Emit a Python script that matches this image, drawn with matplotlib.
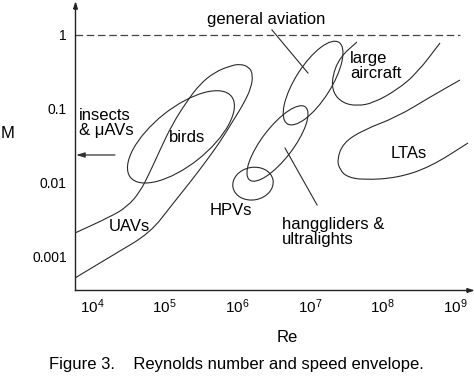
import numpy as np
import matplotlib
matplotlib.use("Agg")
import matplotlib.pyplot as plt
from matplotlib.patches import Ellipse, PathPatch
from matplotlib.path import Path

plt.rcParams['font.family'] = ['Liberation Sans', 'DejaVu Sans']
plt.rcParams['mathtext.fontset'] = 'custom'
plt.rcParams['mathtext.rm'] = 'Liberation Sans'

# UAV envelope (open curve, Re vs M)
uav_re = [5.83e3, 1.77e4, 3.03e4, 4.58e4, 6.30e4, 8.65e4, 1.26e5, 2.04e5, 3.08e5, 4.94e5,
          7.96e5, 1.09e6, 1.46e6, 1.65e6, 1.55e6, 1.24e6, 8.75e5, 5.79e5, 3.84e5, 2.38e5,
          1.26e5, 6.30e4, 2.07e4, 5.83e3]
uav_m = [2.11e-3, 3.48e-3, 4.74e-3, 7.55e-3, 0.0141, 0.0279, 0.0608, 0.128, 0.218, 0.316,
         0.381, 0.406, 0.370, 0.288, 0.192, 0.120, 0.0689, 0.0358, 0.0205, 0.0110,
         5.05e-3, 2.11e-3, 1.10e-3, 5.20e-4]

# large aircraft envelope
large_re = [4.47e7, 2.61e7, 2.02e7, 2.09e7, 2.87e7, 4.47e7, 7.43e7, 1.59e8, 3.00e8, 6.21e8]
large_m = [0.804, 0.504, 0.271, 0.164, 0.120, 0.110, 0.120, 0.181, 0.306, 0.779]

# LTA envelope
lta_re = [1.17e9, 4.53e8, 1.59e8, 5.41e7, 2.87e7, 2.37e7, 2.61e7, 3.25e7, 5.41e7, 1.59e8,
          4.53e8, 1.51e9]
lta_m = [0.246, 0.145, 0.078, 0.052, 0.0347, 0.0205, 0.0150, 0.0121, 0.0110, 0.0117,
         0.0164, 0.0347]

# closed regions: centre Re, centre M, length / width (decades), tilt (deg)
ell_names = ['birds', 'general aviation', 'hanggliders', 'HPVs']
ell_re = [1.68e5, 1.11e7, 3.59e6, 1.65e6]
ell_m = [0.042, 0.224, 0.0342, 0.0098]
ell_len = [1.77, 1.31, 1.25, 0.56]
ell_wid = [0.77, 0.49, 0.43, 0.44]
ell_ang = [38, 57, 52, 10]

xticks = [1e4, 1e5, 1e6, 1e7, 1e8, 1e9]
xticklabels = [r'$\mathregular{10^{%d}}$' % k for k in range(4, 10)]
yticks = [1e-3, 1e-2, 1e-1, 1]
yticklabels = ['0.001', '0.01', '0.1', '1']

line_c = '#2a2a2a'


def smooth_curve(ax, xs, ys):
    # quadratic bezier through the midpoints (midpoints taken in log space)
    pts = list(zip(xs, ys))
    mid = lambda a, b: (np.sqrt(a[0] * b[0]), np.sqrt(a[1] * b[1]))
    verts = [pts[0], mid(pts[0], pts[1])]
    codes = [Path.MOVETO, Path.LINETO]
    for i in range(1, len(pts) - 1):
        verts += [pts[i], mid(pts[i], pts[i + 1])]
        codes += [Path.CURVE3, Path.CURVE3]
    verts.append(pts[-1])
    codes.append(Path.LINETO)
    ax.add_patch(PathPatch(Path(verts, codes), fill=False, ec=line_c, lw=0.8))


fig = plt.figure(figsize=(4.74, 3.90), dpi=100)
ax = fig.add_axes([0.1582, 0.2564, 0.8376, 0.7359])
ax.set_xscale('log')
ax.set_yscale('log')
ax.set_xlim(10**3.766, 10**9.234)
ax.set_ylim(10**-3.446, 10**0.432)

smooth_curve(ax, uav_re, uav_m)
smooth_curve(ax, large_re, large_m)
smooth_curve(ax, lta_re, lta_m)

# ellipses drawn in log space
trans_log = ax.transLimits + ax.transAxes
for re, m, L, W, a in zip(ell_re, ell_m, ell_len, ell_wid, ell_ang):
    ax.add_patch(Ellipse((np.log10(re), np.log10(m)), L, W, angle=a,
                         transform=trans_log, fill=False, ec=line_c, lw=0.8))

# Mach 1 line
ax.plot([10**3.766, 1.17e9], [1, 1], color='#444444', lw=0.9, ls=(0, (6, 3)))

# leader lines
ax.plot([3.01e6, 9.44e6], [1.17, 0.306], color=line_c, lw=0.8)
ax.plot([4.55e6, 1.26e7], [0.0297, 5.04e-3], color=line_c, lw=0.8)

# insects arrow
ax.annotate('', xy=(6.03e3, 0.0239), xytext=(2.07e4, 0.0239),
            arrowprops=dict(arrowstyle='-|>,head_width=0.15,head_length=0.5',
                            color='#333333', lw=0.9, shrinkA=0, shrinkB=0))

fs = 12
ax.text(2.49e6, 1.60, 'general aviation', fontsize=fs, ha='center', va='center')
ax.text(3.58e7, 0.381, 'large\naircraft', fontsize=fs, ha='left', va='center', linespacing=1.0)
ax.text(2.04e5, 0.0406, 'birds', fontsize=fs, ha='center', va='center')
ax.text(6.62e3, 0.0647, 'insects\n& \u03bcAVs', fontsize=fs, ha='left', va='center', linespacing=1.0)
ax.text(3.24e4, 2.62e-3, 'UAVs', fontsize=fs, ha='center', va='center')
ax.text(8.22e5, 4.19e-3, 'HPVs', fontsize=fs, ha='center', va='center')
ax.text(4.14e6, 2.18e-3, 'hanggliders &\nultralights', fontsize=fs, ha='left', va='center', linespacing=1.0)
ax.text(2.32e8, 0.0247, 'LTAs', fontsize=fs, ha='center', va='center')

ax.set_xticks(xticks)
ax.set_xticklabels(xticklabels, fontsize=11)
ax.set_yticks(yticks)
ax.set_yticklabels(yticklabels, fontsize=10)
ax.minorticks_off()
ax.tick_params(axis='x', length=0, pad=5)
ax.tick_params(axis='y', length=0, pad=6)

for s in ['top', 'right']:
    ax.spines[s].set_visible(False)
for s in ['left', 'bottom']:
    ax.spines[s].set_linewidth(1.0)
    ax.spines[s].set_color('#222222')

# arrow heads at the axis ends
head = [(-3, -1), (0, 0), (-3, 1), (-3, -1)]
ax.plot(1, 0, marker=head, ms=8, color='#222222', transform=ax.transAxes, clip_on=False)
head_up = [(-1, -3), (0, 0), (1, -3), (-1, -3)]
ax.plot(0, 1, marker=head_up, ms=8, color='#222222', transform=ax.transAxes, clip_on=False)

ax.set_ylabel('M', rotation=0, fontsize=12, ha='center', va='center')
ax.yaxis.set_label_coords(-0.169, 0.547)
ax.set_xlabel('Re', fontsize=12, ha='center', va='center')
ax.xaxis.set_label_coords(0.534, -0.164)

fig.text(236.5 / 474, 1 - 365 / 390, 'Figure 3.    Reynolds number and speed envelope.',
         fontsize=12, ha='center', va='center')

fig.savefig('out.png', dpi=100)
